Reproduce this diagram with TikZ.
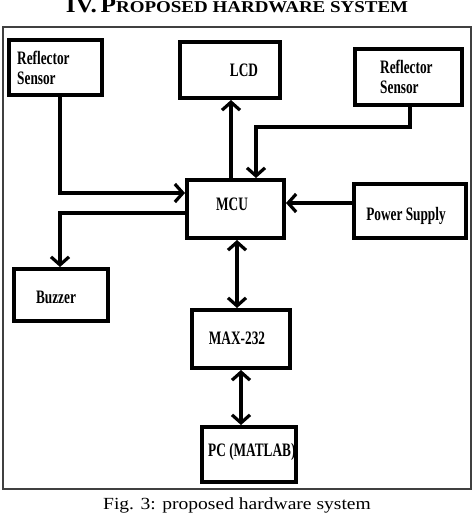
\documentclass[tikz,border=0pt]{standalone}
\usepackage{fontspec}
\setmainfont{Liberation Serif}
\newfontfamily\boxfont[FakeStretch=0.7]{Liberation Serif}
\newfontfamily\capfont[FakeStretch=1.15]{Liberation Serif}
\usetikzlibrary{arrows.meta}

\tikzset{
  blk/.style={draw, line width=4pt, inner sep=0pt},
  link/.style={line width=3.2pt},
  tip/.style={-{Straight Barb[length=8pt,width=18pt]}},
  both/.style={{Straight Barb[length=8pt,width=18pt]}-{Straight Barb[length=8pt,width=18pt]}},
  lbl/.style={font=\boxfont\bfseries\fontsize{19}{20}\selectfont, inner sep=0pt, align=left}
}

\begin{document}
\begin{tikzpicture}[x=1pt,y=-1pt]
  \useasboundingbox (0,0) rectangle (474,515);

  % Heading and outer frame
  \node[font=\capfont\bfseries, anchor=base] (title) at (237,12)
    {\fontsize{22}{22}\selectfont IV.\,P\fontsize{16.5}{17}\selectfont ROPOSED HARDWARE SYSTEM};
  \draw[line width=2pt, black!75] (3,27) rectangle (471,489);

  % Every block: name / centre x / centre y / width / height
  \foreach \nm/\cx/\cy/\w/\h in {
    rsL/55.5/67.5/97/59,
    lcd/230/70/104/60,
    rsR/408.5/77/111/60,
    mcu/235.5/209/101/62,
    psu/410/211/116/58,
    buz/61/295/98/56,
    max/241/339/102/62,
    pc/249/454.5/98/59
  }{
    \node[blk, minimum width=\w pt-4pt, minimum height=\h pt-4pt] (\nm) at (\cx,\cy) {};
  }

  % Block texts
  \node[lbl, anchor=west] (tRsL) at (17,68) {Reflector\\Sensor};
  \node[lbl] (tLcd) at (244,70) {LCD};
  \node[lbl, anchor=west] (tRsR) at (380,77) {Reflector\\Sensor};
  \node[lbl] (tMcu) at (232,204) {MCU};
  \node[lbl] (tPsu) at (406,216) {Power Supply};
  \node[lbl] (tBuz) at (56,297) {Buzzer};
  \node[lbl] (tMax) at (237,338) {MAX-232};
  \node[lbl, anchor=west] (tPc) at (208,452) {PC (MATLAB)};

  % Connectors
  \draw[link,tip] ([xshift=4.5pt]rsL.south) |- ([yshift=16pt]mcu.west);
  \draw[link,tip] ([yshift=-4pt]mcu.west) -| ([xshift=-1pt]buz.north);
  \draw[link,tip] ([xshift=-4.5pt]mcu.north) -- ([xshift=-4.5pt]mcu.north |- lcd.south);
  \draw[link,tip] ([xshift=1.5pt]rsR.south) -- ++(0,20) -| ([xshift=20.5pt]mcu.north);
  \draw[link,tip] ([yshift=8pt]psu.west) -- ([yshift=8pt]psu.west -| mcu.east);
  \draw[link,both] ([xshift=1.5pt]mcu.south) -- ([xshift=1.5pt]mcu.south |- max.north);
  \draw[link,both] (max.south) -- (max.south |- pc.north);

  % Caption
  \node[font=\capfont\fontsize{17}{18}\selectfont, anchor=base] (caption) at (237,509)
    {Fig. 3: proposed hardware system};
\end{tikzpicture}
\end{document}
